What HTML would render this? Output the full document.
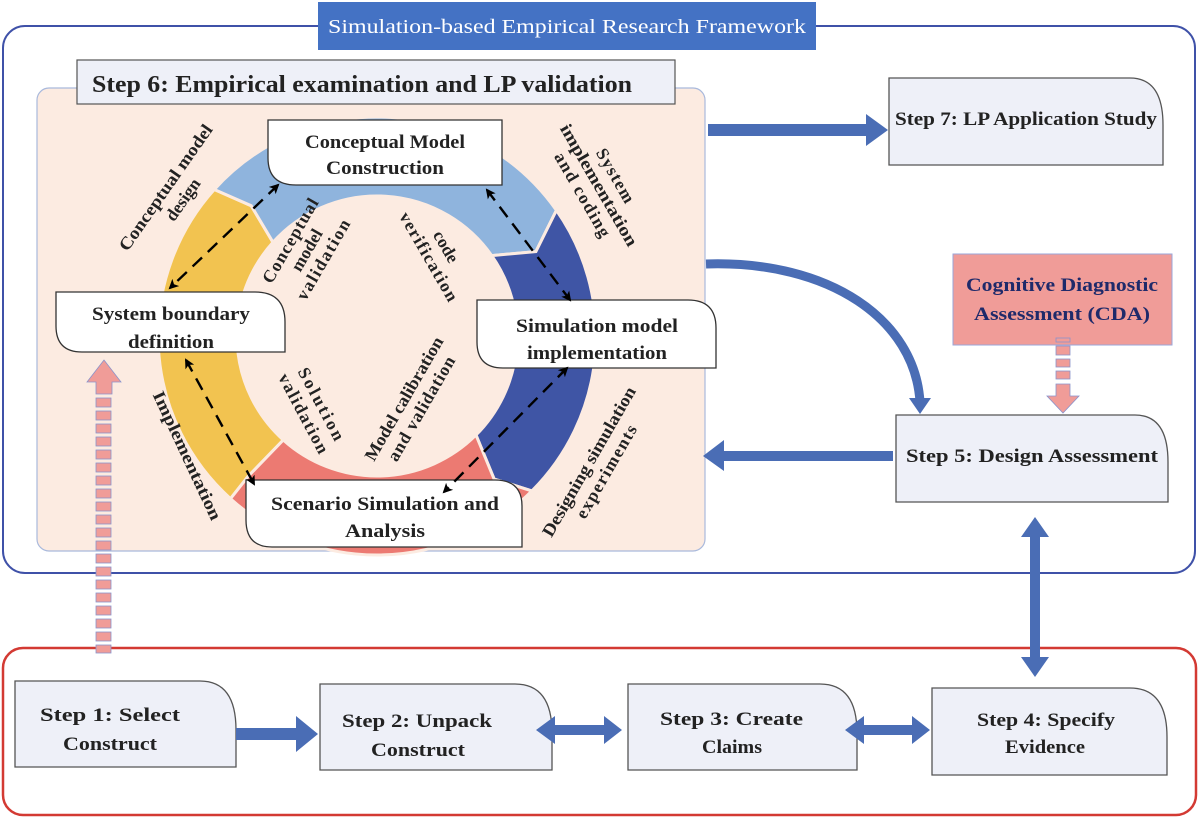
<!DOCTYPE html>
<html><head><meta charset="utf-8"><style>
html,body{margin:0;padding:0;background:#fff}
svg{display:block}
text{font-family:"Liberation Serif",serif;font-weight:bold;fill:#222}
</style></head><body>
<svg width="1200" height="818" viewBox="0 0 1200 818" xmlns="http://www.w3.org/2000/svg">
<defs>
<marker id="ah" markerWidth="10" markerHeight="10" refX="8" refY="5" orient="auto" markerUnits="userSpaceOnUse"><path d="M0,0 L10,5 L0,10 L2.5,5 Z" fill="#000"/></marker>
<marker id="at" markerWidth="10" markerHeight="10" refX="2" refY="5" orient="auto" markerUnits="userSpaceOnUse"><path d="M10,0 L0,5 L10,10 L7.5,5 Z" fill="#000"/></marker>
</defs>
<rect x="3" y="26" width="1192" height="547" rx="22" fill="#fff" stroke="#3f51a8" stroke-width="2"/>
<rect x="3" y="648" width="1193" height="167" rx="20" fill="#fff" stroke="#d33a33" stroke-width="2.5"/>
<rect x="318" y="2" width="498" height="48" fill="#4472c4"/>
<text x="567" y="33" text-anchor="middle" style="font-weight:normal;fill:#fff;font-size:20px" textLength="478" lengthAdjust="spacingAndGlyphs">Simulation-based Empirical Research Framework</text>

<rect x="37" y="88" width="668" height="463" rx="12" fill="#fcebe1" stroke="#a9b9dc" stroke-width="1.2"/>
<rect x="77" y="60" width="598" height="44" fill="#eef0f8" stroke="#555" stroke-width="1.2"/>
<text x="92" y="92" style="font-size:24px" textLength="540" lengthAdjust="spacingAndGlyphs">Step 6: Empirical examination and LP validation</text>

<!-- ring: yellow 132-222, lb 222-325, dark 325-405, red 405-492 -->
<g stroke="#fcebe1" stroke-width="3">
<path d="M230.5,498.7 A219,219 0 0 1 214.3,189.5 L251.2,205.7 L273.0,242.3 A140,140 0 0 0 283.3,440.0 L248.2,476.3 Z" fill="#f2c350"/>
<path d="M214.3,189.5 A219,219 0 0 1 556.4,210.3 L535.9,251.6 L491.7,255.6 A140,140 0 0 0 273.0,242.3 L251.2,205.7 Z" fill="#8fb4dd"/>
<path d="M556.4,210.3 A219,219 0 0 1 531.9,490.9 L494.1,479.0 L476.0,435.0 A140,140 0 0 0 491.7,255.6 L535.9,251.6 Z" fill="#3f55a5"/>
<path d="M531.9,490.9 A219,219 0 0 1 230.5,498.7 L248.2,476.3 L283.3,440.0 A140,140 0 0 0 476.0,435.0 L494.1,479.0 Z" fill="#ec7a72"/>
</g>

<g style="font-size:17.5px">
<text transform="translate(172,192) rotate(-55)" text-anchor="middle"><tspan x="0" y="-2" textLength="150" lengthAdjust="spacingAndGlyphs">Conceptual model</tspan><tspan x="0" y="19">design</tspan></text>
<text transform="translate(594,188) rotate(60)" text-anchor="middle"><tspan x="0" y="-19" textLength="60">System</tspan><tspan x="0" y="0" textLength="138" lengthAdjust="spacingAndGlyphs">implementation</tspan><tspan x="0" y="19" textLength="95">and coding</tspan></text>
<text transform="translate(310,252) rotate(-60)" text-anchor="middle"><tspan x="0" y="-17" textLength="95">Conceptual</tspan><tspan x="0" y="2">model</tspan><tspan x="0" y="21" textLength="90">validation</tspan></text>
<text transform="translate(435,253) rotate(60)" text-anchor="middle"><tspan x="0" y="-7">code</tspan><tspan x="0" y="13" textLength="100">verification</tspan></text>
<text transform="translate(310,410) rotate(62)" text-anchor="middle"><tspan x="0" y="-7" textLength="80">Solution</tspan><tspan x="0" y="13" textLength="88">validation</tspan></text>
<text transform="translate(415,405) rotate(-60)" text-anchor="middle"><tspan x="0" y="-7" textLength="140" lengthAdjust="spacingAndGlyphs">Model calibration</tspan><tspan x="0" y="13" textLength="118">and validation</tspan></text>
<text transform="translate(182,458) rotate(65)" text-anchor="middle" textLength="140" lengthAdjust="spacingAndGlyphs">Implementation</text>
<text transform="translate(600,468) rotate(-60)" text-anchor="middle"><tspan x="0" y="-7" textLength="170" lengthAdjust="spacingAndGlyphs">Designing simulation</tspan><tspan x="0" y="13" textLength="105">experiments</tspan></text>
</g>

<g fill="#fff" stroke="#333" stroke-width="1.3">
<path d="M268,120 H502 V185 H296 Q268,185 268,158 Z"/>
<path d="M56,292 H255 Q285,292 285,322 V352 H82 Q56,352 56,326 Z"/>
<path d="M477,300 H688 Q716,300 716,328 V368 H503 Q477,368 477,342 Z"/>
<path d="M246,480 H495 Q522,480 522,506 V547 H272 Q246,547 246,520 Z"/>
</g>
<g style="font-size:19px" text-anchor="middle">
<text x="385" y="148" textLength="160" lengthAdjust="spacingAndGlyphs">Conceptual Model</text><text x="385" y="174" textLength="118" lengthAdjust="spacingAndGlyphs">Construction</text>
<text x="171" y="320" textLength="158" lengthAdjust="spacingAndGlyphs">System boundary</text><text x="171" y="348" textLength="86" lengthAdjust="spacingAndGlyphs">definition</text>
<text x="597" y="332" textLength="162" lengthAdjust="spacingAndGlyphs">Simulation model</text><text x="597" y="359" textLength="140" lengthAdjust="spacingAndGlyphs">implementation</text>
<text x="385" y="510" textLength="228" lengthAdjust="spacingAndGlyphs">Scenario Simulation and</text><text x="385" y="537" textLength="80" lengthAdjust="spacingAndGlyphs">Analysis</text>
</g>

<g stroke="#000" stroke-width="2.4" stroke-dasharray="13,8" fill="none" marker-start="url(#at)" marker-end="url(#ah)">
<line x1="278" y1="185" x2="170" y2="288"/>
<line x1="487" y1="190" x2="570" y2="300"/>
<line x1="567" y1="368" x2="444" y2="492"/>
<line x1="186" y1="360" x2="254" y2="484"/>
</g>

<g fill="#eef0f8" stroke="#555" stroke-width="1.3">
<path d="M889,78 H1130 Q1163,78 1163,125 V165 H889 Z"/>
<path d="M896,415 H1135 Q1168,415 1168,462 V502 H896 Z"/>
<path d="M15,681 H200 Q236,681 236,730 V767 H15 Z"/>
<path d="M320,684 H515 Q552,684 552,733 V770 H320 Z"/>
<path d="M628,684 H820 Q857,684 857,733 V770 H628 Z"/>
<path d="M932,688 H1130 Q1167,688 1167,737 V775 H932 Z"/>
</g>
<rect x="953" y="254" width="219" height="91" fill="#f09c98" stroke="#9aa6d8" stroke-width="1"/>
<g style="font-size:19px">
<text x="1026" y="125" text-anchor="middle" textLength="262" lengthAdjust="spacingAndGlyphs">Step 7: LP Application Study</text>
<text x="1032" y="462" text-anchor="middle" textLength="252" lengthAdjust="spacingAndGlyphs">Step 5: Design Assessment</text>
<text x="1062" y="291" text-anchor="middle" style="fill:#1f2a6a" textLength="192" lengthAdjust="spacingAndGlyphs">Cognitive Diagnostic</text>
<text x="1062" y="320" text-anchor="middle" style="fill:#1f2a6a" textLength="176" lengthAdjust="spacingAndGlyphs">Assessment (CDA)</text>
<text x="40" y="721" textLength="140" lengthAdjust="spacingAndGlyphs">Step 1:  Select</text><text x="110" y="750" text-anchor="middle" textLength="94" lengthAdjust="spacingAndGlyphs">Construct</text>
<text x="342" y="727" textLength="150" lengthAdjust="spacingAndGlyphs">Step 2:  Unpack</text><text x="418" y="756" text-anchor="middle" textLength="94" lengthAdjust="spacingAndGlyphs">Construct</text>
<text x="660" y="725" textLength="143" lengthAdjust="spacingAndGlyphs">Step 3:  Create</text><text x="732" y="753" text-anchor="middle" textLength="60" lengthAdjust="spacingAndGlyphs">Claims</text>
<text x="977" y="726" textLength="138" lengthAdjust="spacingAndGlyphs">Step 4: Specify</text><text x="1045" y="753" text-anchor="middle" textLength="80" lengthAdjust="spacingAndGlyphs">Evidence</text>
</g>

<g fill="#4a6db5">
<path d="M708,124 H866 V114 L888,130 L866,146 V136 H708 Z"/>
<path d="M893,451 H724 V440 L703,456 L724,471 V461 H893 Z"/>
<path d="M236,728 H296 V716 L318,734 L296,752 V740 H236 Z"/>
<path d="M555,725 H604 V716 L622,730 L604,744 V735 H555 V744 L536,730 L555,716 Z"/>
<path d="M864,725 H912 V716 L930,730 L912,744 V735 H864 V744 L845,730 L864,716 Z"/>
<path d="M1030,537 V657 H1021 L1035,677 L1049,657 H1040 V537 H1049 L1035,517 L1021,537 Z"/>
</g>
<path d="M706,264 C830,260 915,320 920,402" fill="none" stroke="#4a6db5" stroke-width="9"/>
<path d="M909,398 L931,398 L920,414 Z" fill="#4a6db5"/>

<g fill="#f09c98" stroke="#8a93cc" stroke-width="0.8">
<rect x="1056" y="338" width="14" height="4"/>
<rect x="1056" y="346" width="14" height="9"/>
<rect x="1056" y="359" width="14" height="8"/>
<rect x="1056" y="371" width="14" height="8"/>
<path d="M1056,384 H1070 V396 H1079 L1063,413 L1047,396 H1056 Z"/>
<path d="M96,382 H87 L104,360 L121,382 H112 V394 H96 Z"/>
</g>
<g fill="#f09c98" stroke="#8a93cc" stroke-width="0.8">
<rect x="96" y="398" width="15" height="9"/><rect x="96" y="411" width="15" height="9"/>
<rect x="96" y="424" width="15" height="9"/><rect x="96" y="437" width="15" height="9"/>
<rect x="96" y="450" width="15" height="9"/><rect x="96" y="463" width="15" height="9"/>
<rect x="96" y="476" width="15" height="9"/><rect x="96" y="489" width="15" height="9"/>
<rect x="96" y="502" width="15" height="9"/><rect x="96" y="515" width="15" height="9"/>
<rect x="96" y="528" width="15" height="9"/><rect x="96" y="541" width="15" height="9"/>
<rect x="96" y="554" width="15" height="9"/><rect x="96" y="567" width="15" height="9"/>
<rect x="96" y="580" width="15" height="9"/><rect x="96" y="593" width="15" height="9"/>
<rect x="96" y="606" width="15" height="9"/><rect x="96" y="619" width="15" height="9"/>
<rect x="96" y="632" width="15" height="9"/><rect x="96" y="645" width="15" height="8"/>
</g>
</svg>
</body></html>
